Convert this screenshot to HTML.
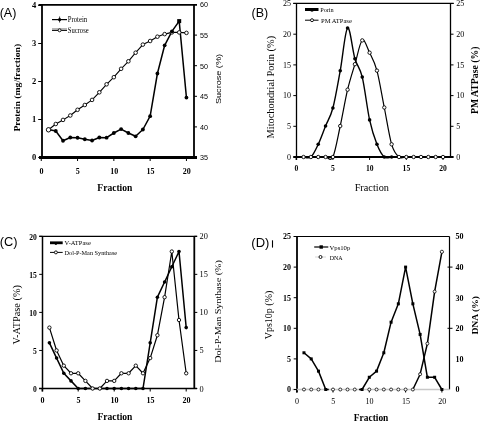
<!DOCTYPE html>
<html><head><meta charset="utf-8"><title>Fractionation profiles</title>
<style>
html,body{margin:0;padding:0;background:#fff;}
body{width:480px;height:421px;overflow:hidden;}
svg{display:block;}
</style></head>
<body>
<svg width="480" height="421" viewBox="0 0 480 421">
<rect width="480" height="421" fill="#fff"/>
<line x1="38.50" y1="4.90" x2="197.00" y2="4.90" stroke="#000" stroke-width="1.8"/>
<line x1="42.00" y1="4.90" x2="42.00" y2="157.50" stroke="#000" stroke-width="1.8"/>
<line x1="194.00" y1="4.90" x2="194.00" y2="157.50" stroke="#000" stroke-width="1.8"/>
<line x1="39.00" y1="157.50" x2="197.00" y2="157.50" stroke="#000" stroke-width="2.8"/>
<line x1="38.20" y1="157.50" x2="42.00" y2="157.50" stroke="#000" stroke-width="1"/>
<text x="36.20" y="160.30" font-family='"Liberation Serif", serif' font-size="8.5" font-weight="bold" text-anchor="end">0</text>
<line x1="38.20" y1="119.50" x2="42.00" y2="119.50" stroke="#000" stroke-width="1"/>
<text x="36.20" y="122.30" font-family='"Liberation Serif", serif' font-size="8.5" font-weight="bold" text-anchor="end">1</text>
<line x1="38.20" y1="81.50" x2="42.00" y2="81.50" stroke="#000" stroke-width="1"/>
<text x="36.20" y="84.30" font-family='"Liberation Serif", serif' font-size="8.5" font-weight="bold" text-anchor="end">2</text>
<line x1="38.20" y1="43.50" x2="42.00" y2="43.50" stroke="#000" stroke-width="1"/>
<text x="36.20" y="46.30" font-family='"Liberation Serif", serif' font-size="8.5" font-weight="bold" text-anchor="end">3</text>
<line x1="38.20" y1="5.50" x2="42.00" y2="5.50" stroke="#000" stroke-width="1"/>
<text x="36.20" y="8.30" font-family='"Liberation Serif", serif' font-size="8.5" font-weight="bold" text-anchor="end">4</text>
<line x1="194.00" y1="157.50" x2="197.00" y2="157.50" stroke="#000" stroke-width="1"/>
<text x="200.00" y="160.40" font-family='"Liberation Sans", sans-serif' font-size="7.6" font-weight="normal" text-anchor="start" textLength="8" lengthAdjust="spacingAndGlyphs">35</text>
<line x1="194.00" y1="126.90" x2="197.00" y2="126.90" stroke="#000" stroke-width="1"/>
<text x="200.00" y="129.80" font-family='"Liberation Sans", sans-serif' font-size="7.6" font-weight="normal" text-anchor="start" textLength="8" lengthAdjust="spacingAndGlyphs">40</text>
<line x1="194.00" y1="96.30" x2="197.00" y2="96.30" stroke="#000" stroke-width="1"/>
<text x="200.00" y="99.20" font-family='"Liberation Sans", sans-serif' font-size="7.6" font-weight="normal" text-anchor="start" textLength="8" lengthAdjust="spacingAndGlyphs">45</text>
<line x1="194.00" y1="65.70" x2="197.00" y2="65.70" stroke="#000" stroke-width="1"/>
<text x="200.00" y="68.60" font-family='"Liberation Sans", sans-serif' font-size="7.6" font-weight="normal" text-anchor="start" textLength="8" lengthAdjust="spacingAndGlyphs">50</text>
<line x1="194.00" y1="35.10" x2="197.00" y2="35.10" stroke="#000" stroke-width="1"/>
<text x="200.00" y="38.00" font-family='"Liberation Sans", sans-serif' font-size="7.6" font-weight="normal" text-anchor="start" textLength="8" lengthAdjust="spacingAndGlyphs">55</text>
<line x1="194.00" y1="4.50" x2="197.00" y2="4.50" stroke="#000" stroke-width="1"/>
<text x="200.00" y="7.40" font-family='"Liberation Sans", sans-serif' font-size="7.6" font-weight="normal" text-anchor="start" textLength="8" lengthAdjust="spacingAndGlyphs">60</text>
<line x1="41.25" y1="157.50" x2="41.25" y2="161.00" stroke="#000" stroke-width="1"/>
<text x="41.55" y="174.00" font-family='"Liberation Serif", serif' font-size="8" font-weight="bold" text-anchor="middle">0</text>
<line x1="77.55" y1="157.50" x2="77.55" y2="161.00" stroke="#000" stroke-width="1"/>
<text x="77.85" y="174.00" font-family='"Liberation Serif", serif' font-size="8" font-weight="bold" text-anchor="middle">5</text>
<line x1="113.85" y1="157.50" x2="113.85" y2="161.00" stroke="#000" stroke-width="1"/>
<text x="114.15" y="174.00" font-family='"Liberation Serif", serif' font-size="8" font-weight="bold" text-anchor="middle">10</text>
<line x1="150.15" y1="157.50" x2="150.15" y2="161.00" stroke="#000" stroke-width="1"/>
<text x="150.45" y="174.00" font-family='"Liberation Serif", serif' font-size="8" font-weight="bold" text-anchor="middle">15</text>
<line x1="186.45" y1="157.50" x2="186.45" y2="161.00" stroke="#000" stroke-width="1"/>
<text x="186.75" y="174.00" font-family='"Liberation Serif", serif' font-size="8" font-weight="bold" text-anchor="middle">20</text>
<text x="114.85" y="190.90" font-family='"Liberation Serif", serif' font-size="10" font-weight="bold" text-anchor="middle" textLength="35" lengthAdjust="spacingAndGlyphs">Fraction</text>
<text transform="translate(19.60,87.75) rotate(-90)" x="0" y="0" font-family='"Liberation Serif", serif' font-size="9" font-weight="bold" text-anchor="middle" textLength="87.7" lengthAdjust="spacingAndGlyphs">Protein (mg/fraction)</text>
<text transform="translate(221.00,79.00) rotate(-90)" x="0" y="0" font-family='"Liberation Sans", sans-serif' font-size="7.8" font-weight="normal" text-anchor="middle" textLength="50" lengthAdjust="spacingAndGlyphs">Sucrose (%)</text>
<text x="-0.30" y="17.30" font-family='"Liberation Sans", sans-serif' font-size="12.5" font-weight="normal" text-anchor="start">(A)</text>
<polyline points="48.51,129.80 55.77,124.00 63.03,119.90 70.29,115.50 77.55,109.80 84.81,105.00 92.07,99.90 99.33,92.30 106.59,84.30 113.85,77.20 121.11,68.80 128.37,61.30 135.63,52.70 142.89,44.60 150.15,41.00 157.41,36.70 164.67,34.10 171.93,32.40 179.19,32.40 186.45,32.90" fill="none" stroke="#000" stroke-width="1.1" stroke-linejoin="round"/>
<polyline points="48.51,129.50 55.77,131.00 63.03,140.75 70.29,137.50 77.55,137.75 84.81,139.25 92.07,140.50 99.33,137.50 106.59,137.70 113.85,133.00 121.11,129.10 128.37,133.00 135.63,136.30 142.89,129.50 150.15,116.20 157.41,73.50 164.67,45.30 171.93,31.40 179.19,21.10 186.45,97.60" fill="none" stroke="#000" stroke-width="1.5" stroke-linejoin="round"/>
<circle cx="48.51" cy="129.80" r="1.8" fill="#fff" stroke="#000" stroke-width="0.9"/>
<circle cx="55.77" cy="124.00" r="1.8" fill="#fff" stroke="#000" stroke-width="0.9"/>
<circle cx="63.03" cy="119.90" r="1.8" fill="#fff" stroke="#000" stroke-width="0.9"/>
<circle cx="70.29" cy="115.50" r="1.8" fill="#fff" stroke="#000" stroke-width="0.9"/>
<circle cx="77.55" cy="109.80" r="1.8" fill="#fff" stroke="#000" stroke-width="0.9"/>
<circle cx="84.81" cy="105.00" r="1.8" fill="#fff" stroke="#000" stroke-width="0.9"/>
<circle cx="92.07" cy="99.90" r="1.8" fill="#fff" stroke="#000" stroke-width="0.9"/>
<circle cx="99.33" cy="92.30" r="1.8" fill="#fff" stroke="#000" stroke-width="0.9"/>
<circle cx="106.59" cy="84.30" r="1.8" fill="#fff" stroke="#000" stroke-width="0.9"/>
<circle cx="113.85" cy="77.20" r="1.8" fill="#fff" stroke="#000" stroke-width="0.9"/>
<circle cx="121.11" cy="68.80" r="1.8" fill="#fff" stroke="#000" stroke-width="0.9"/>
<circle cx="128.37" cy="61.30" r="1.8" fill="#fff" stroke="#000" stroke-width="0.9"/>
<circle cx="135.63" cy="52.70" r="1.8" fill="#fff" stroke="#000" stroke-width="0.9"/>
<circle cx="142.89" cy="44.60" r="1.8" fill="#fff" stroke="#000" stroke-width="0.9"/>
<circle cx="150.15" cy="41.00" r="1.8" fill="#fff" stroke="#000" stroke-width="0.9"/>
<circle cx="157.41" cy="36.70" r="1.8" fill="#fff" stroke="#000" stroke-width="0.9"/>
<circle cx="164.67" cy="34.10" r="1.8" fill="#fff" stroke="#000" stroke-width="0.9"/>
<circle cx="171.93" cy="32.40" r="1.8" fill="#fff" stroke="#000" stroke-width="0.9"/>
<circle cx="179.19" cy="32.40" r="1.8" fill="#fff" stroke="#000" stroke-width="0.9"/>
<circle cx="186.45" cy="32.90" r="1.8" fill="#fff" stroke="#000" stroke-width="0.9"/>
<circle cx="55.77" cy="131.00" r="1.9" fill="#000"/>
<circle cx="63.03" cy="140.75" r="1.9" fill="#000"/>
<circle cx="70.29" cy="137.50" r="1.9" fill="#000"/>
<circle cx="77.55" cy="137.75" r="1.9" fill="#000"/>
<circle cx="84.81" cy="139.25" r="1.9" fill="#000"/>
<circle cx="92.07" cy="140.50" r="1.9" fill="#000"/>
<circle cx="99.33" cy="137.50" r="1.9" fill="#000"/>
<circle cx="106.59" cy="137.70" r="1.9" fill="#000"/>
<circle cx="113.85" cy="133.00" r="1.9" fill="#000"/>
<circle cx="121.11" cy="129.10" r="1.9" fill="#000"/>
<circle cx="128.37" cy="133.00" r="1.9" fill="#000"/>
<circle cx="135.63" cy="136.30" r="1.9" fill="#000"/>
<circle cx="142.89" cy="129.50" r="1.9" fill="#000"/>
<circle cx="150.15" cy="116.20" r="1.9" fill="#000"/>
<circle cx="157.41" cy="73.50" r="1.9" fill="#000"/>
<circle cx="164.67" cy="45.30" r="1.9" fill="#000"/>
<circle cx="171.93" cy="31.40" r="1.9" fill="#000"/>
<rect x="177.19" y="19.10" width="4" height="4" fill="#000"/>
<circle cx="186.45" cy="97.60" r="1.9" fill="#000"/>
<circle cx="48.51" cy="129.80" r="2.2" fill="#fff" stroke="#000" stroke-width="0.9"/>
<line x1="52.00" y1="19.60" x2="67.00" y2="19.60" stroke="#000" stroke-width="1.2"/>
<circle cx="59.60" cy="19.60" r="1.6" fill="#000"/>
<line x1="59.60" y1="16.50" x2="59.60" y2="22.50" stroke="#000" stroke-width="0.8"/>
<text x="67.70" y="22.00" font-family='"Liberation Serif", serif' font-size="8" font-weight="normal" text-anchor="start" textLength="19.5" lengthAdjust="spacingAndGlyphs">Protein</text>
<line x1="52.00" y1="30.30" x2="67.00" y2="30.30" stroke="#000" stroke-width="1.2"/>
<line x1="52.00" y1="28.60" x2="67.00" y2="28.60" stroke="#999" stroke-width="0.8"/>
<circle cx="59.60" cy="30.30" r="1.5" fill="#fff" stroke="#000" stroke-width="0.9"/>
<text x="67.70" y="32.50" font-family='"Liberation Serif", serif' font-size="8" font-weight="normal" text-anchor="start" textLength="21" lengthAdjust="spacingAndGlyphs">Sucrose</text>
<line x1="293.30" y1="3.40" x2="453.70" y2="3.40" stroke="#000" stroke-width="1.1"/>
<line x1="296.50" y1="3.40" x2="296.50" y2="160.00" stroke="#000" stroke-width="1.3"/>
<line x1="450.50" y1="3.40" x2="450.50" y2="157.00" stroke="#000" stroke-width="1.3"/>
<line x1="293.30" y1="157.00" x2="453.50" y2="157.00" stroke="#000" stroke-width="1.8"/>
<line x1="293.30" y1="157.00" x2="296.50" y2="157.00" stroke="#000" stroke-width="1"/>
<line x1="450.50" y1="157.00" x2="453.50" y2="157.00" stroke="#000" stroke-width="1"/>
<text x="291.00" y="159.70" font-family='"Liberation Serif", serif' font-size="8" font-weight="normal" text-anchor="end">0</text>
<text x="456.30" y="159.70" font-family='"Liberation Serif", serif' font-size="8" font-weight="normal" text-anchor="start">0</text>
<line x1="293.30" y1="126.30" x2="296.50" y2="126.30" stroke="#000" stroke-width="1"/>
<line x1="450.50" y1="126.30" x2="453.50" y2="126.30" stroke="#000" stroke-width="1"/>
<text x="291.00" y="129.00" font-family='"Liberation Serif", serif' font-size="8" font-weight="normal" text-anchor="end">5</text>
<text x="456.30" y="129.00" font-family='"Liberation Serif", serif' font-size="8" font-weight="normal" text-anchor="start">5</text>
<line x1="293.30" y1="95.60" x2="296.50" y2="95.60" stroke="#000" stroke-width="1"/>
<line x1="450.50" y1="95.60" x2="453.50" y2="95.60" stroke="#000" stroke-width="1"/>
<text x="291.00" y="98.30" font-family='"Liberation Serif", serif' font-size="8" font-weight="normal" text-anchor="end">10</text>
<text x="456.30" y="98.30" font-family='"Liberation Serif", serif' font-size="8" font-weight="normal" text-anchor="start">10</text>
<line x1="293.30" y1="64.90" x2="296.50" y2="64.90" stroke="#000" stroke-width="1"/>
<line x1="450.50" y1="64.90" x2="453.50" y2="64.90" stroke="#000" stroke-width="1"/>
<text x="291.00" y="67.60" font-family='"Liberation Serif", serif' font-size="8" font-weight="normal" text-anchor="end">15</text>
<text x="456.30" y="67.60" font-family='"Liberation Serif", serif' font-size="8" font-weight="normal" text-anchor="start">15</text>
<line x1="293.30" y1="34.20" x2="296.50" y2="34.20" stroke="#000" stroke-width="1"/>
<line x1="450.50" y1="34.20" x2="453.50" y2="34.20" stroke="#000" stroke-width="1"/>
<text x="291.00" y="36.90" font-family='"Liberation Serif", serif' font-size="8" font-weight="normal" text-anchor="end">20</text>
<text x="456.30" y="36.90" font-family='"Liberation Serif", serif' font-size="8" font-weight="normal" text-anchor="start">20</text>
<line x1="293.30" y1="3.50" x2="296.50" y2="3.50" stroke="#000" stroke-width="1"/>
<line x1="450.50" y1="3.50" x2="453.50" y2="3.50" stroke="#000" stroke-width="1"/>
<text x="291.00" y="6.20" font-family='"Liberation Serif", serif' font-size="8" font-weight="normal" text-anchor="end">25</text>
<text x="456.30" y="6.20" font-family='"Liberation Serif", serif' font-size="8" font-weight="normal" text-anchor="start">25</text>
<line x1="296.20" y1="157.00" x2="296.20" y2="160.00" stroke="#000" stroke-width="1"/>
<text x="296.30" y="171.30" font-family='"Liberation Serif", serif' font-size="7.6" font-weight="bold" text-anchor="middle">0</text>
<line x1="332.90" y1="157.00" x2="332.90" y2="160.00" stroke="#000" stroke-width="1"/>
<text x="333.00" y="171.30" font-family='"Liberation Serif", serif' font-size="7.6" font-weight="bold" text-anchor="middle">5</text>
<line x1="369.60" y1="157.00" x2="369.60" y2="160.00" stroke="#000" stroke-width="1"/>
<text x="369.70" y="171.30" font-family='"Liberation Serif", serif' font-size="7.6" font-weight="bold" text-anchor="middle">10</text>
<line x1="406.30" y1="157.00" x2="406.30" y2="160.00" stroke="#000" stroke-width="1"/>
<text x="406.40" y="171.30" font-family='"Liberation Serif", serif' font-size="7.6" font-weight="bold" text-anchor="middle">15</text>
<line x1="443.00" y1="157.00" x2="443.00" y2="160.00" stroke="#000" stroke-width="1"/>
<text x="443.10" y="171.30" font-family='"Liberation Serif", serif' font-size="7.6" font-weight="bold" text-anchor="middle">20</text>
<text x="371.80" y="190.80" font-family='"Liberation Serif", serif' font-size="10.2" font-weight="normal" text-anchor="middle" textLength="34.3" lengthAdjust="spacingAndGlyphs">Fraction</text>
<text transform="translate(274.00,87.15) rotate(-90)" x="0" y="0" font-family='"Liberation Serif", serif' font-size="9.5" font-weight="normal" text-anchor="middle" textLength="102.5" lengthAdjust="spacingAndGlyphs">Mitochondrial Porin (%)</text>
<text transform="translate(478.00,80.30) rotate(-90)" x="0" y="0" font-family='"Liberation Serif", serif' font-size="9.5" font-weight="bold" text-anchor="middle" textLength="67.4" lengthAdjust="spacingAndGlyphs">PM ATPase (%)</text>
<text x="251.50" y="17.30" font-family='"Liberation Sans", sans-serif' font-size="12.5" font-weight="normal" text-anchor="start">(B)</text>
<path d="M303.54,157.00 C304.76,157.00 308.43,157.00 310.88,157.00 C313.33,157.00 315.77,157.00 318.22,157.00 C320.67,157.00 323.11,157.00 325.56,157.00 C328.01,157.00 330.45,162.17 332.90,157.00 C335.35,151.83 337.79,137.22 340.24,126.00 C342.69,114.78 345.13,100.00 347.58,89.70 C350.03,79.40 352.47,72.42 354.92,64.20 C357.37,55.98 359.81,42.32 362.26,40.40 C364.71,38.48 367.15,47.67 369.60,52.70 C372.05,57.73 374.49,61.47 376.94,70.60 C379.39,79.73 381.83,95.22 384.28,107.50 C386.73,119.78 389.17,136.05 391.62,144.30 C394.07,152.55 396.51,154.88 398.96,157.00 C401.41,159.12 403.85,157.00 406.30,157.00 C408.75,157.00 411.19,157.00 413.64,157.00 C416.09,157.00 418.53,157.00 420.98,157.00 C423.43,157.00 425.87,157.00 428.32,157.00 C430.77,157.00 433.21,157.00 435.66,157.00 C438.11,157.00 441.78,157.00 443.00,157.00" fill="none" stroke="#000" stroke-width="1.2" stroke-linejoin="round"/>
<path d="M303.54,157.00 C304.76,157.00 308.43,159.12 310.88,157.00 C313.33,154.88 315.77,149.47 318.22,144.30 C320.67,139.13 323.11,132.05 325.56,126.00 C328.01,119.95 330.45,117.22 332.90,108.00 C335.35,98.78 337.79,84.03 340.24,70.70 C342.69,57.37 345.13,30.00 347.58,28.00 C350.03,26.00 352.47,50.52 354.92,58.70 C357.37,66.88 359.81,66.90 362.26,77.10 C364.71,87.30 367.15,108.70 369.60,119.90 C372.05,131.10 374.49,138.12 376.94,144.30 C379.39,150.48 381.83,154.88 384.28,157.00 C386.73,159.12 389.17,157.00 391.62,157.00 C394.07,157.00 396.51,157.00 398.96,157.00 C401.41,157.00 403.85,157.00 406.30,157.00 C408.75,157.00 411.19,157.00 413.64,157.00 C416.09,157.00 418.53,157.00 420.98,157.00 C423.43,157.00 425.87,157.00 428.32,157.00 C430.77,157.00 433.21,157.00 435.66,157.00 C438.11,157.00 441.78,157.00 443.00,157.00" fill="none" stroke="#000" stroke-width="1.4" stroke-linejoin="round"/>
<circle cx="303.54" cy="157.00" r="1.7" fill="#fff" stroke="#000" stroke-width="0.9"/>
<circle cx="310.88" cy="157.00" r="1.7" fill="#fff" stroke="#000" stroke-width="0.9"/>
<circle cx="318.22" cy="157.00" r="1.7" fill="#fff" stroke="#000" stroke-width="0.9"/>
<circle cx="325.56" cy="157.00" r="1.7" fill="#fff" stroke="#000" stroke-width="0.9"/>
<circle cx="332.90" cy="157.00" r="1.7" fill="#fff" stroke="#000" stroke-width="0.9"/>
<circle cx="340.24" cy="126.00" r="1.7" fill="#fff" stroke="#000" stroke-width="0.9"/>
<circle cx="347.58" cy="89.70" r="1.7" fill="#fff" stroke="#000" stroke-width="0.9"/>
<circle cx="354.92" cy="64.20" r="1.7" fill="#fff" stroke="#000" stroke-width="0.9"/>
<circle cx="362.26" cy="40.40" r="1.7" fill="#fff" stroke="#000" stroke-width="0.9"/>
<circle cx="369.60" cy="52.70" r="1.7" fill="#fff" stroke="#000" stroke-width="0.9"/>
<circle cx="376.94" cy="70.60" r="1.7" fill="#fff" stroke="#000" stroke-width="0.9"/>
<circle cx="384.28" cy="107.50" r="1.7" fill="#fff" stroke="#000" stroke-width="0.9"/>
<circle cx="391.62" cy="144.30" r="1.7" fill="#fff" stroke="#000" stroke-width="0.9"/>
<circle cx="398.96" cy="157.00" r="1.7" fill="#fff" stroke="#000" stroke-width="0.9"/>
<circle cx="406.30" cy="157.00" r="1.7" fill="#fff" stroke="#000" stroke-width="0.9"/>
<circle cx="413.64" cy="157.00" r="1.7" fill="#fff" stroke="#000" stroke-width="0.9"/>
<circle cx="420.98" cy="157.00" r="1.7" fill="#fff" stroke="#000" stroke-width="0.9"/>
<circle cx="428.32" cy="157.00" r="1.7" fill="#fff" stroke="#000" stroke-width="0.9"/>
<circle cx="435.66" cy="157.00" r="1.7" fill="#fff" stroke="#000" stroke-width="0.9"/>
<circle cx="443.00" cy="157.00" r="1.7" fill="#fff" stroke="#000" stroke-width="0.9"/>
<circle cx="318.22" cy="144.30" r="1.8" fill="#000"/>
<circle cx="325.56" cy="126.00" r="1.8" fill="#000"/>
<circle cx="332.90" cy="108.00" r="1.8" fill="#000"/>
<circle cx="340.24" cy="70.70" r="1.8" fill="#000"/>
<circle cx="347.58" cy="28.00" r="1.8" fill="#000"/>
<circle cx="354.92" cy="58.70" r="1.8" fill="#000"/>
<circle cx="362.26" cy="77.10" r="1.8" fill="#000"/>
<circle cx="369.60" cy="119.90" r="1.8" fill="#000"/>
<circle cx="376.94" cy="144.30" r="1.8" fill="#000"/>
<circle cx="384.28" cy="157.00" r="1.8" fill="#000"/>
<circle cx="391.62" cy="157.00" r="1.8" fill="#000"/>
<line x1="305.00" y1="9.50" x2="318.50" y2="9.50" stroke="#000" stroke-width="3"/>
<circle cx="312.00" cy="10.00" r="1.8" fill="#000"/>
<text x="320.20" y="12.00" font-family='"Liberation Serif", serif' font-size="6.5" font-weight="normal" text-anchor="start" textLength="13.5" lengthAdjust="spacingAndGlyphs">Porin</text>
<line x1="305.00" y1="20.20" x2="318.50" y2="20.20" stroke="#000" stroke-width="1"/>
<circle cx="312.00" cy="20.20" r="1.5" fill="#fff" stroke="#000" stroke-width="0.9"/>
<text x="321.00" y="22.50" font-family='"Liberation Serif", serif' font-size="6.5" font-weight="normal" text-anchor="start" textLength="30.8" lengthAdjust="spacingAndGlyphs">PM ATPase</text>
<line x1="39.20" y1="236.30" x2="197.00" y2="236.30" stroke="#000" stroke-width="1.2"/>
<line x1="42.50" y1="236.30" x2="42.50" y2="391.50" stroke="#000" stroke-width="1.5"/>
<line x1="194.30" y1="236.30" x2="194.30" y2="388.50" stroke="#000" stroke-width="1.8"/>
<line x1="39.00" y1="388.50" x2="197.00" y2="388.50" stroke="#000" stroke-width="1.5"/>
<line x1="39.20" y1="388.50" x2="42.50" y2="388.50" stroke="#000" stroke-width="1"/>
<line x1="194.30" y1="388.50" x2="197.30" y2="388.50" stroke="#000" stroke-width="1"/>
<text x="36.80" y="391.70" font-family='"Liberation Serif", serif' font-size="8.8" font-weight="bold" text-anchor="end" textLength="3.8" lengthAdjust="spacingAndGlyphs">0</text>
<text x="199.50" y="391.50" font-family='"Liberation Serif", serif' font-size="8.3" font-weight="normal" text-anchor="start">0</text>
<line x1="39.20" y1="350.45" x2="42.50" y2="350.45" stroke="#000" stroke-width="1"/>
<line x1="194.30" y1="350.45" x2="197.30" y2="350.45" stroke="#000" stroke-width="1"/>
<text x="36.80" y="353.65" font-family='"Liberation Serif", serif' font-size="8.8" font-weight="bold" text-anchor="end" textLength="3.8" lengthAdjust="spacingAndGlyphs">5</text>
<text x="199.50" y="353.45" font-family='"Liberation Serif", serif' font-size="8.3" font-weight="normal" text-anchor="start">5</text>
<line x1="39.20" y1="312.40" x2="42.50" y2="312.40" stroke="#000" stroke-width="1"/>
<line x1="194.30" y1="312.40" x2="197.30" y2="312.40" stroke="#000" stroke-width="1"/>
<text x="36.80" y="315.60" font-family='"Liberation Serif", serif' font-size="8.8" font-weight="bold" text-anchor="end" textLength="7.6" lengthAdjust="spacingAndGlyphs">10</text>
<text x="199.50" y="315.40" font-family='"Liberation Serif", serif' font-size="8.3" font-weight="normal" text-anchor="start">10</text>
<line x1="39.20" y1="274.35" x2="42.50" y2="274.35" stroke="#000" stroke-width="1"/>
<line x1="194.30" y1="274.35" x2="197.30" y2="274.35" stroke="#000" stroke-width="1"/>
<text x="36.80" y="277.55" font-family='"Liberation Serif", serif' font-size="8.8" font-weight="bold" text-anchor="end" textLength="7.6" lengthAdjust="spacingAndGlyphs">15</text>
<text x="199.50" y="277.35" font-family='"Liberation Serif", serif' font-size="8.3" font-weight="normal" text-anchor="start">15</text>
<line x1="39.20" y1="236.30" x2="42.50" y2="236.30" stroke="#000" stroke-width="1"/>
<line x1="194.30" y1="236.30" x2="197.30" y2="236.30" stroke="#000" stroke-width="1"/>
<text x="36.80" y="239.50" font-family='"Liberation Serif", serif' font-size="8.8" font-weight="bold" text-anchor="end" textLength="7.6" lengthAdjust="spacingAndGlyphs">20</text>
<text x="199.50" y="239.30" font-family='"Liberation Serif", serif' font-size="8.3" font-weight="normal" text-anchor="start">20</text>
<line x1="42.20" y1="388.50" x2="42.20" y2="391.50" stroke="#000" stroke-width="1"/>
<text x="42.50" y="403.00" font-family='"Liberation Serif", serif' font-size="8" font-weight="bold" text-anchor="middle">0</text>
<line x1="78.20" y1="388.50" x2="78.20" y2="391.50" stroke="#000" stroke-width="1"/>
<text x="78.50" y="403.00" font-family='"Liberation Serif", serif' font-size="8" font-weight="bold" text-anchor="middle">5</text>
<line x1="114.20" y1="388.50" x2="114.20" y2="391.50" stroke="#000" stroke-width="1"/>
<text x="114.50" y="403.00" font-family='"Liberation Serif", serif' font-size="8" font-weight="bold" text-anchor="middle">10</text>
<line x1="150.20" y1="388.50" x2="150.20" y2="391.50" stroke="#000" stroke-width="1"/>
<text x="150.50" y="403.00" font-family='"Liberation Serif", serif' font-size="8" font-weight="bold" text-anchor="middle">15</text>
<line x1="186.20" y1="388.50" x2="186.20" y2="391.50" stroke="#000" stroke-width="1"/>
<text x="186.50" y="403.00" font-family='"Liberation Serif", serif' font-size="8" font-weight="bold" text-anchor="middle">20</text>
<text x="114.90" y="419.80" font-family='"Liberation Serif", serif' font-size="10" font-weight="bold" text-anchor="middle" textLength="35" lengthAdjust="spacingAndGlyphs">Fraction</text>
<text transform="translate(19.80,314.80) rotate(-90)" x="0" y="0" font-family='"Liberation Serif", serif' font-size="9.5" font-weight="normal" text-anchor="middle" textLength="59.4" lengthAdjust="spacingAndGlyphs">V-ATPase (%)</text>
<text transform="translate(221.00,311.45) rotate(-90)" x="0" y="0" font-family='"Liberation Serif", serif' font-size="9" font-weight="normal" text-anchor="middle" textLength="102.7" lengthAdjust="spacingAndGlyphs">Dol-P-Man Synthase (%)</text>
<text x="-0.30" y="246.30" font-family='"Liberation Sans", sans-serif' font-size="12.8" font-weight="normal" text-anchor="start">(C)</text>
<polyline points="49.40,327.62 56.60,350.45 63.80,365.67 71.00,373.28 78.20,373.28 85.40,380.89 92.60,388.50 99.80,388.50 107.00,380.89 114.20,380.89 121.40,373.28 128.60,373.28 135.80,365.67 143.00,373.28 150.20,358.06 157.40,335.23 164.60,297.18 171.80,251.52 179.00,320.01 186.20,373.28" fill="none" stroke="#000" stroke-width="1.2" stroke-linejoin="round"/>
<polyline points="49.40,342.84 56.60,358.06 63.80,373.28 71.00,380.89 78.20,388.50 85.40,388.50 92.60,388.50 99.80,388.50 107.00,388.50 114.20,388.50 121.40,388.50 128.60,388.50 135.80,388.50 143.00,388.50 150.20,342.84 157.40,297.18 164.60,281.96 171.80,266.74 179.00,251.52 186.20,327.62" fill="none" stroke="#000" stroke-width="1.5" stroke-linejoin="round"/>
<circle cx="49.40" cy="342.84" r="1.8" fill="#000"/>
<circle cx="56.60" cy="358.06" r="1.8" fill="#000"/>
<circle cx="63.80" cy="373.28" r="1.8" fill="#000"/>
<circle cx="71.00" cy="380.89" r="1.8" fill="#000"/>
<circle cx="78.20" cy="388.50" r="1.8" fill="#000"/>
<circle cx="85.40" cy="388.50" r="1.8" fill="#000"/>
<circle cx="92.60" cy="388.50" r="1.8" fill="#000"/>
<circle cx="99.80" cy="388.50" r="1.8" fill="#000"/>
<circle cx="107.00" cy="388.50" r="1.8" fill="#000"/>
<circle cx="114.20" cy="388.50" r="1.8" fill="#000"/>
<circle cx="121.40" cy="388.50" r="1.8" fill="#000"/>
<circle cx="128.60" cy="388.50" r="1.8" fill="#000"/>
<circle cx="135.80" cy="388.50" r="1.8" fill="#000"/>
<circle cx="143.00" cy="388.50" r="1.8" fill="#000"/>
<circle cx="150.20" cy="342.84" r="1.8" fill="#000"/>
<circle cx="157.40" cy="297.18" r="1.8" fill="#000"/>
<circle cx="164.60" cy="281.96" r="1.8" fill="#000"/>
<circle cx="171.80" cy="266.74" r="1.8" fill="#000"/>
<circle cx="179.00" cy="251.52" r="1.8" fill="#000"/>
<circle cx="186.20" cy="327.62" r="1.8" fill="#000"/>
<circle cx="92.60" cy="388.50" r="1.7" fill="#fff" stroke="#000" stroke-width="0.9"/>
<circle cx="99.80" cy="388.50" r="1.7" fill="#fff" stroke="#000" stroke-width="0.9"/>
<circle cx="49.40" cy="327.62" r="1.7" fill="#fff" stroke="#000" stroke-width="0.9"/>
<circle cx="56.60" cy="350.45" r="1.7" fill="#fff" stroke="#000" stroke-width="0.9"/>
<circle cx="63.80" cy="365.67" r="1.7" fill="#fff" stroke="#000" stroke-width="0.9"/>
<circle cx="71.00" cy="373.28" r="1.7" fill="#fff" stroke="#000" stroke-width="0.9"/>
<circle cx="78.20" cy="373.28" r="1.7" fill="#fff" stroke="#000" stroke-width="0.9"/>
<circle cx="85.40" cy="380.89" r="1.7" fill="#fff" stroke="#000" stroke-width="0.9"/>
<circle cx="107.00" cy="380.89" r="1.7" fill="#fff" stroke="#000" stroke-width="0.9"/>
<circle cx="114.20" cy="380.89" r="1.7" fill="#fff" stroke="#000" stroke-width="0.9"/>
<circle cx="121.40" cy="373.28" r="1.7" fill="#fff" stroke="#000" stroke-width="0.9"/>
<circle cx="128.60" cy="373.28" r="1.7" fill="#fff" stroke="#000" stroke-width="0.9"/>
<circle cx="135.80" cy="365.67" r="1.7" fill="#fff" stroke="#000" stroke-width="0.9"/>
<circle cx="143.00" cy="373.28" r="1.7" fill="#fff" stroke="#000" stroke-width="0.9"/>
<circle cx="150.20" cy="358.06" r="1.7" fill="#fff" stroke="#000" stroke-width="0.9"/>
<circle cx="157.40" cy="335.23" r="1.7" fill="#fff" stroke="#000" stroke-width="0.9"/>
<circle cx="164.60" cy="297.18" r="1.7" fill="#fff" stroke="#000" stroke-width="0.9"/>
<circle cx="171.80" cy="251.52" r="1.7" fill="#fff" stroke="#000" stroke-width="0.9"/>
<circle cx="179.00" cy="320.01" r="1.7" fill="#fff" stroke="#000" stroke-width="0.9"/>
<circle cx="186.20" cy="373.28" r="1.7" fill="#fff" stroke="#000" stroke-width="0.9"/>
<line x1="50.00" y1="242.80" x2="62.70" y2="242.80" stroke="#000" stroke-width="2.8"/>
<circle cx="55.90" cy="243.60" r="1.3" fill="#000"/>
<text x="64.60" y="245.00" font-family='"Liberation Serif", serif' font-size="6.5" font-weight="normal" text-anchor="start" textLength="26.2" lengthAdjust="spacingAndGlyphs">V-ATPase</text>
<line x1="50.00" y1="252.40" x2="62.70" y2="252.40" stroke="#000" stroke-width="1"/>
<circle cx="55.90" cy="252.40" r="1.5" fill="#fff" stroke="#000" stroke-width="0.9"/>
<text x="64.60" y="255.00" font-family='"Liberation Serif", serif' font-size="6.5" font-weight="normal" text-anchor="start" textLength="52.5" lengthAdjust="spacingAndGlyphs">Dol-P-Man Synthase</text>
<line x1="293.70" y1="236.50" x2="449.50" y2="236.50" stroke="#000" stroke-width="1.2"/>
<line x1="297.00" y1="236.50" x2="297.00" y2="392.50" stroke="#000" stroke-width="1.8"/>
<line x1="449.50" y1="236.50" x2="449.50" y2="389.50" stroke="#000" stroke-width="1.2"/>
<line x1="292.50" y1="389.50" x2="449.50" y2="389.50" stroke="#c8c8c8" stroke-width="1.6"/>
<line x1="293.70" y1="389.50" x2="297.00" y2="389.50" stroke="#000" stroke-width="1"/>
<text x="291.00" y="392.30" font-family='"Liberation Serif", serif' font-size="8" font-weight="bold" text-anchor="end">0</text>
<text x="455.50" y="392.30" font-family='"Liberation Serif", serif' font-size="8" font-weight="bold" text-anchor="start">0</text>
<line x1="293.70" y1="358.90" x2="297.00" y2="358.90" stroke="#000" stroke-width="1"/>
<text x="291.00" y="361.70" font-family='"Liberation Serif", serif' font-size="8" font-weight="bold" text-anchor="end">5</text>
<text x="455.50" y="361.70" font-family='"Liberation Serif", serif' font-size="8" font-weight="bold" text-anchor="start">10</text>
<line x1="293.70" y1="328.30" x2="297.00" y2="328.30" stroke="#000" stroke-width="1"/>
<line x1="447.50" y1="328.30" x2="452.50" y2="328.30" stroke="#000" stroke-width="1"/>
<text x="291.00" y="331.10" font-family='"Liberation Serif", serif' font-size="8" font-weight="bold" text-anchor="end">10</text>
<text x="455.50" y="331.10" font-family='"Liberation Serif", serif' font-size="8" font-weight="bold" text-anchor="start">20</text>
<line x1="293.70" y1="297.70" x2="297.00" y2="297.70" stroke="#000" stroke-width="1"/>
<text x="291.00" y="300.50" font-family='"Liberation Serif", serif' font-size="8" font-weight="bold" text-anchor="end">15</text>
<text x="455.50" y="300.50" font-family='"Liberation Serif", serif' font-size="8" font-weight="bold" text-anchor="start">30</text>
<line x1="293.70" y1="267.10" x2="297.00" y2="267.10" stroke="#000" stroke-width="1"/>
<line x1="447.50" y1="267.10" x2="452.50" y2="267.10" stroke="#000" stroke-width="1"/>
<text x="291.00" y="269.90" font-family='"Liberation Serif", serif' font-size="8" font-weight="bold" text-anchor="end">20</text>
<text x="455.50" y="269.90" font-family='"Liberation Serif", serif' font-size="8" font-weight="bold" text-anchor="start">40</text>
<line x1="293.70" y1="236.50" x2="297.00" y2="236.50" stroke="#000" stroke-width="1"/>
<text x="291.00" y="239.30" font-family='"Liberation Serif", serif' font-size="8" font-weight="bold" text-anchor="end">25</text>
<text x="455.50" y="239.30" font-family='"Liberation Serif", serif' font-size="8" font-weight="bold" text-anchor="start">50</text>
<line x1="296.70" y1="389.50" x2="296.70" y2="392.50" stroke="#000" stroke-width="1"/>
<text x="297.00" y="404.00" font-family='"Liberation Serif", serif' font-size="8" font-weight="normal" text-anchor="middle">0</text>
<line x1="333.00" y1="389.50" x2="333.00" y2="392.50" stroke="#000" stroke-width="1"/>
<text x="333.30" y="404.00" font-family='"Liberation Serif", serif' font-size="8" font-weight="normal" text-anchor="middle">5</text>
<line x1="369.30" y1="389.50" x2="369.30" y2="392.50" stroke="#000" stroke-width="1"/>
<text x="369.60" y="404.00" font-family='"Liberation Serif", serif' font-size="8" font-weight="normal" text-anchor="middle">10</text>
<line x1="405.60" y1="389.50" x2="405.60" y2="392.50" stroke="#000" stroke-width="1"/>
<text x="405.90" y="404.00" font-family='"Liberation Serif", serif' font-size="8" font-weight="normal" text-anchor="middle">15</text>
<line x1="441.90" y1="389.50" x2="441.90" y2="392.50" stroke="#000" stroke-width="1"/>
<text x="442.20" y="404.00" font-family='"Liberation Serif", serif' font-size="8" font-weight="normal" text-anchor="middle">20</text>
<text x="371.10" y="421.40" font-family='"Liberation Serif", serif' font-size="10" font-weight="bold" text-anchor="middle" textLength="34.5" lengthAdjust="spacingAndGlyphs">Fraction</text>
<text transform="translate(271.50,315.00) rotate(-90)" x="0" y="0" font-family='"Liberation Serif", serif' font-size="9.5" font-weight="normal" text-anchor="middle" textLength="48.6" lengthAdjust="spacingAndGlyphs">Vps10p (%)</text>
<text transform="translate(477.80,315.30) rotate(-90)" x="0" y="0" font-family='"Liberation Serif", serif' font-size="9" font-weight="bold" text-anchor="middle" textLength="38.6" lengthAdjust="spacingAndGlyphs">DNA (%)</text>
<text x="251.30" y="246.80" font-family='"Liberation Sans", sans-serif' font-size="13.0" font-weight="normal" text-anchor="start">(D)</text>
<line x1="272.50" y1="240.30" x2="272.50" y2="247.60" stroke="#000" stroke-width="1.1"/>
<polyline points="303.96,352.78 311.22,358.90 318.48,371.14 325.74,389.50" fill="none" stroke="#000" stroke-width="1.5" stroke-linejoin="round"/>
<polyline points="362.04,389.50 369.30,377.26 376.56,371.14 383.82,352.78 391.08,322.18 398.34,303.82 405.60,267.10 412.86,303.82 420.12,334.42 427.38,377.26 434.64,377.26 441.90,389.50" fill="none" stroke="#000" stroke-width="1.5" stroke-linejoin="round"/>
<line x1="325.74" y1="389.50" x2="328.74" y2="389.50" stroke="#000" stroke-width="1.5"/>
<line x1="359.04" y1="389.50" x2="362.04" y2="389.50" stroke="#000" stroke-width="1.5"/>
<rect x="302.46" y="351.28" width="3.0" height="3.0" fill="#000"/>
<rect x="309.72" y="357.40" width="3.0" height="3.0" fill="#000"/>
<rect x="316.98" y="369.64" width="3.0" height="3.0" fill="#000"/>
<rect x="324.24" y="388.00" width="3.0" height="3.0" fill="#000"/>
<rect x="360.54" y="388.00" width="3.0" height="3.0" fill="#000"/>
<rect x="367.80" y="375.76" width="3.0" height="3.0" fill="#000"/>
<rect x="375.06" y="369.64" width="3.0" height="3.0" fill="#000"/>
<rect x="382.32" y="351.28" width="3.0" height="3.0" fill="#000"/>
<rect x="389.58" y="320.68" width="3.0" height="3.0" fill="#000"/>
<rect x="396.84" y="302.32" width="3.0" height="3.0" fill="#000"/>
<rect x="404.10" y="265.60" width="3.0" height="3.0" fill="#000"/>
<rect x="411.36" y="302.32" width="3.0" height="3.0" fill="#000"/>
<rect x="418.62" y="332.92" width="3.0" height="3.0" fill="#000"/>
<rect x="425.88" y="375.76" width="3.0" height="3.0" fill="#000"/>
<rect x="433.14" y="375.76" width="3.0" height="3.0" fill="#000"/>
<rect x="440.40" y="388.00" width="3.0" height="3.0" fill="#000"/>
<polyline points="412.86,389.50 420.12,374.20 427.38,343.60 434.64,291.58 441.90,251.80" fill="none" stroke="#000" stroke-width="1.5" stroke-linejoin="round"/>
<circle cx="303.96" cy="389.50" r="1.5" fill="#fff" stroke="#000" stroke-width="0.8"/>
<circle cx="311.22" cy="389.50" r="1.5" fill="#fff" stroke="#000" stroke-width="0.8"/>
<circle cx="318.48" cy="389.50" r="1.5" fill="#fff" stroke="#000" stroke-width="0.8"/>
<circle cx="333.00" cy="389.50" r="1.5" fill="#fff" stroke="#000" stroke-width="0.8"/>
<circle cx="340.26" cy="389.50" r="1.5" fill="#fff" stroke="#000" stroke-width="0.8"/>
<circle cx="347.52" cy="389.50" r="1.5" fill="#fff" stroke="#000" stroke-width="0.8"/>
<circle cx="354.78" cy="389.50" r="1.5" fill="#fff" stroke="#000" stroke-width="0.8"/>
<circle cx="369.30" cy="389.50" r="1.5" fill="#fff" stroke="#000" stroke-width="0.8"/>
<circle cx="376.56" cy="389.50" r="1.5" fill="#fff" stroke="#000" stroke-width="0.8"/>
<circle cx="383.82" cy="389.50" r="1.5" fill="#fff" stroke="#000" stroke-width="0.8"/>
<circle cx="391.08" cy="389.50" r="1.5" fill="#fff" stroke="#000" stroke-width="0.8"/>
<circle cx="398.34" cy="389.50" r="1.5" fill="#fff" stroke="#000" stroke-width="0.8"/>
<circle cx="405.60" cy="389.50" r="1.5" fill="#fff" stroke="#000" stroke-width="0.8"/>
<circle cx="412.86" cy="389.50" r="1.5" fill="#fff" stroke="#000" stroke-width="0.8"/>
<circle cx="420.12" cy="374.20" r="1.5" fill="#fff" stroke="#000" stroke-width="0.8"/>
<circle cx="427.38" cy="343.60" r="1.5" fill="#fff" stroke="#000" stroke-width="0.8"/>
<circle cx="434.64" cy="291.58" r="1.5" fill="#fff" stroke="#000" stroke-width="0.8"/>
<circle cx="441.90" cy="251.80" r="1.6" fill="#fff" stroke="#000" stroke-width="0.8"/>
<line x1="314.20" y1="247.00" x2="328.30" y2="247.00" stroke="#000" stroke-width="1.2"/>
<rect x="319.50" y="245.30" width="3.4" height="3.4" fill="#000"/>
<text x="329.50" y="249.60" font-family='"Liberation Serif", serif' font-size="7" font-weight="normal" text-anchor="start" textLength="20.8" lengthAdjust="spacingAndGlyphs">Vps10p</text>
<line x1="315.00" y1="257.00" x2="326.00" y2="257.00" stroke="#bbb" stroke-width="0.6"/>
<circle cx="320.50" cy="257.00" r="1.5" fill="#fff" stroke="#000" stroke-width="0.9"/>
<text x="329.70" y="259.50" font-family='"Liberation Serif", serif' font-size="6.5" font-weight="normal" text-anchor="start" textLength="13" lengthAdjust="spacingAndGlyphs">DNA</text>
</svg>
</body></html>
